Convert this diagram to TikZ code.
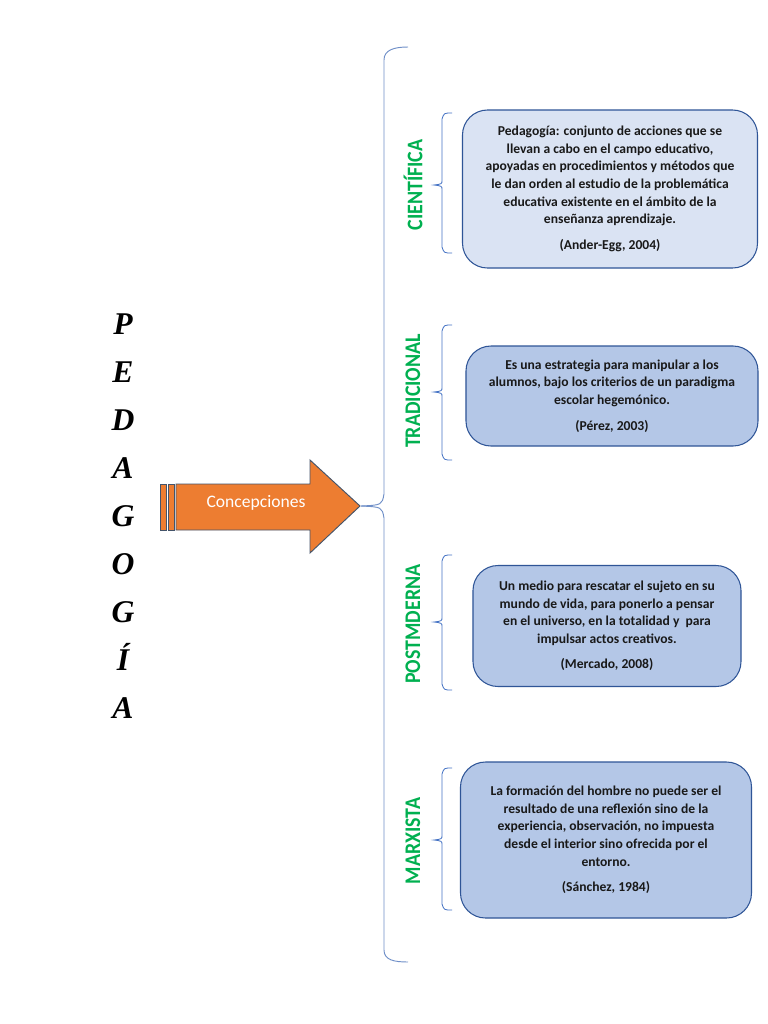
\documentclass[tikz,border=0pt]{standalone}
\usepackage{fontspec}
\setmainfont{Carlito}
\newfontfamily\titlefont{Liberation Serif}
\definecolor{naranja}{HTML}{ED7D31}
\definecolor{borde}{HTML}{44546A}
\definecolor{verde}{HTML}{00B050}
\definecolor{llavecol}{HTML}{6F8FC8}
\definecolor{llavechica}{HTML}{4472C4}
\definecolor{boxline}{HTML}{2F5597}
\definecolor{clarito}{HTML}{DAE3F3}
\definecolor{medio}{HTML}{B4C7E7}

\begin{document}
\begin{tikzpicture}[x=0.03cm, y=-0.03cm,
  cita/.style={draw=boxline, line width=0.9pt, rounded corners=0.75cm, align=center,
    font=\bfseries\fontsize{11.6}{15}\selectfont, text=black!90},
  rama/.style={text=verde, font=\bfseries\fontsize{17}{17}\selectfont, rotate=90},
  letra/.style={font=\titlefont\bfseries\itshape\fontsize{27}{27}\selectfont, anchor=base},
  llave/.style={draw=llavecol, line width=0.8pt},
  llavita/.style={draw=llavechica, line width=0.7pt}]
  \useasboundingbox[fill=white] (0,0) rectangle (768,1024);

  % title letters
  \foreach \l [count=\i from 0] in {P,E,D,A,G,O,G,Í,A}
    \node[letra] (l\i) at (123,{334+48*\i}) {\l};

  % arrow
  \draw[fill=naranja, draw=borde, line width=0.8pt] (160,484) rectangle (166,530);
  \draw[fill=naranja, draw=borde, line width=0.8pt] (168,484) rectangle (174,530);
  \draw[fill=naranja, draw=borde, line width=0.8pt] (176,484) -- (310,484) -- (310,460)
    -- (360,506) -- (310,553) -- (310,530) -- (176,530) -- cycle;
  \coordinate (tip) at (361,506);
  \node[text=white, font=\fontsize{15}{15}\selectfont] (conc) at (256,503) {Concepciones};

  % big brace
  \draw[llave] (tip) .. controls (382,505) .. (384,494) -- (384,60)
    .. controls (384,50) and (394,47) .. (408,47);
  \draw[llave] (tip) .. controls (382,507) .. (384,518) -- (384,950)
    .. controls (384,960) and (394,962) .. (408,962);

  % branches
  \foreach \lab/\t/\m/\b/\ly [count=\i] in {CIENTÍFICA/113/185/253/185,
      TRADICIONAL/325/392/460/391, POSTMDERNA/555/622/690/624, MARXISTA/768/840/910/841} {
    \draw[llavita] (452,\t) .. controls (444,\t) .. (442,{\t+6}) -- (442,{\m-5})
      .. controls (442,{\m-1}) .. (434,\m) .. controls (442,{\m+1}) .. (442,{\m+5})
      -- (442,{\b-6}) .. controls (444,\b) .. (452,\b);
    \node[rama] (r\i) at (413,\ly) {\scalebox{1}[1.12]{\lab}};
  }

  % boxes
  \node[cita, fill=clarito, minimum width=8.85cm, minimum height=4.74cm] (c1) at (610,189)
    {Pedagogía: conjunto de acciones que se\\ llevan a cabo en el campo educativo,\\
     apoyadas en procedimientos y métodos que\\ le dan orden al estudio de la problemática\\
     educativa existente en el ámbito de la\\ enseñanza aprendizaje.\\[7pt] (Ander-Egg, 2004)};
  \node[cita, fill=medio, minimum width=8.76cm, minimum height=3.0cm] (c2) at (612,396)
    {Es una estrategia para manipular a los\\ alumnos, bajo los criterios de un paradigma\\
     escolar hegemónico.\\[7pt] (Pérez, 2003)};
  \node[cita, fill=medio, minimum width=8.04cm, minimum height=3.63cm] (c3) at (607,626)
    {Un medio para rescatar el sujeto en su\\ mundo de vida, para ponerlo a pensar\\
     en el universo, en la totalidad y\ \ para\\ impulsar actos creativos.\\[7pt] (Mercado, 2008)};
  \node[cita, fill=medio, minimum width=8.73cm, minimum height=4.68cm] (c4) at (606,840)
    {La formación del hombre no puede ser el\\ resultado de una reflexión sino de la\\
     experiencia, observación, no impuesta\\ desde el interior sino ofrecida por el\\
     entorno.\\[7pt] (Sánchez, 1984)};
\end{tikzpicture}
\end{document}
